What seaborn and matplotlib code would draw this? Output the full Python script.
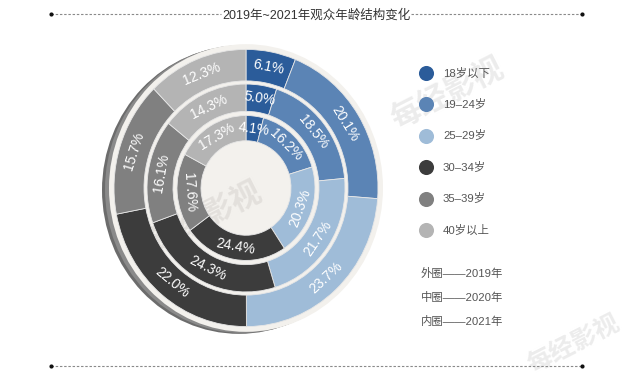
import numpy as np
import matplotlib
matplotlib.use("Agg")
import matplotlib.pyplot as plt
import seaborn as sns
from matplotlib.patches import Circle

# ---------------- data ----------------
categories = ["18岁以下", "19–24岁", "25–29岁", "30–34岁", "35–39岁", "40岁以上"]
values_2019 = [6.1, 20.1, 23.7, 22.0, 15.7, 12.3]   # outer ring
values_2020 = [5.0, 18.5, 21.7, 24.3, 16.1, 14.3]   # middle ring
values_2021 = [4.1, 16.2, 20.3, 24.4, 17.6, 17.3]   # inner ring
ring_notes = ["外圈——2019年", "中圈——2020年", "内圈——2021年"]
title = "2019年~2021年观众年龄结构变化"
watermark = "每经影视"

# ---------------- style ----------------
sns.set_theme(style="white")
plt.rcParams["font.family"] = ["Liberation Sans", "Noto Sans CJK SC", "DejaVu Sans"]
palette = sns.color_palette(["#2b5c9a", "#5b84b5", "#9fbcd8", "#3c3c3c", "#808080", "#b4b4b4"])

W, H = 640, 385
K = 1.05  # slight vertical stretch of the disc


def Y(y):
    return (H - y) / K


fig = plt.figure(figsize=(6.4, 3.85), dpi=100)
fig.patch.set_facecolor("white")
ax = fig.add_axes([0, 0, 1, 1])

wm_kw = dict(rotation=27, ha="center", va="center", fontweight="bold",
             family=["Noto Sans CJK SC"])
# background watermarks (behind disc)
ax.text(447, Y(94), watermark, fontsize=22, color="#ececec", zorder=0.5, **wm_kw)
ax.text(574, Y(344), watermark, fontsize=18, color="#ececec", zorder=0.5, **wm_kw)

cx, cy = 246, Y(188)

# 3D side / shadow and disc base
ax.add_patch(Circle((cx - 7, cy - 2 / K), 137, fc="#6c6c6c", ec="none", zorder=1))
ax.add_patch(Circle((cx - 4, cy - 1 / K), 137, fc="#8a8a8a", ec="none", zorder=1.1))
ax.add_patch(Circle((cx, cy), 137, fc="#f3f1ed", ec="none", zorder=1.2))

# watermark visible in the hole
ax.text(205, Y(218), watermark, fontsize=22, color="#e3e0dc", zorder=1.5, **wm_kw)

rings = [
    (values_2019, 132, 30),
    (values_2020, 99, 26),
    (values_2021, 69, 24),
]

for vals, r, w in rings:
    wedges, _ = ax.pie(vals, radius=r, center=(cx, cy), startangle=90,
                       counterclock=False, colors=palette, normalize=True,
                       wedgeprops=dict(width=w, edgecolor="#e6e6e6",
                                       linewidth=0.6, zorder=3))
    rl = r - w / 2
    for wdg, v in zip(wedges, vals):
        mid = np.deg2rad((wdg.theta1 + wdg.theta2) / 2)
        rot = np.rad2deg(mid) - 90
        rot = ((rot + 90) % 180) - 90
        ax.text(cx + rl * np.cos(mid), cy + rl * np.sin(mid), f"{v:.1f}%",
                ha="center", va="center", rotation=rot, rotation_mode="anchor",
                fontsize=10, color="white", zorder=5)

# legend
for i, (lab, col) in enumerate(zip(categories, palette)):
    yy = 73 + 31.4 * i
    ax.scatter([426], [Y(yy)], s=118, color=col, zorder=5, linewidths=0)
    ax.text(443, Y(yy), lab, ha="left", va="center", fontsize=8.2,
            color="#555555", zorder=5)
for i, note in enumerate(ring_notes):
    yy = 274 + 23.5 * i
    ax.text(421, Y(yy), note, ha="left", va="center", fontsize=8.2,
            color="#555555", zorder=5)

# title with dashed rules
ax.text(316, Y(15), title, ha="center", va="center", fontsize=9,
        color="#333333", zorder=5)
line_kw = dict(color="#8a8a8a", lw=0.8, dashes=(2.2, 1.6), zorder=4)
ax.plot([51, 221], [Y(14), Y(14)], **line_kw)
ax.plot([411, 582], [Y(14), Y(14)], **line_kw)
ax.plot([51, 582], [Y(366), Y(366)], **line_kw)
for xx, yy in [(51, 14), (582, 14), (51, 366), (582, 366)]:
    ax.scatter([xx], [Y(yy)], s=9, color="#111111", zorder=5, linewidths=0)

ax.set_aspect("auto")
ax.set_xlim(0, W)
ax.set_ylim(0, H / K)
ax.axis("off")

fig.savefig("out.png", dpi=100, facecolor="white")
